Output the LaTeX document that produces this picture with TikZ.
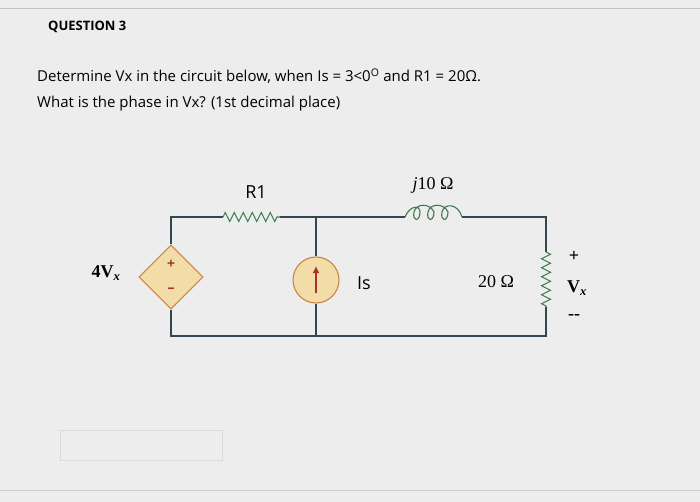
\documentclass[tikz,border=0pt]{standalone}
\usepackage{fontspec}
\setmainfont{Open Sans}
\newfontfamily\serf{Liberation Serif}
\usetikzlibrary{decorations.pathmorphing,arrows.meta}
\definecolor{wire}{HTML}{34464F}
\definecolor{comp}{HTML}{3C7A4E}
\definecolor{srcf}{HTML}{F2DCA8}
\definecolor{srce}{HTML}{C8874A}
\definecolor{arr}{HTML}{A8322A}
\begin{document}
\begin{tikzpicture}[x=1pt,y=-1pt,
  w/.style={draw=wire,line width=1.3pt},
  zig/.style={draw=comp,line width=1.1pt,decorate,decoration={zigzag,segment length=9pt,amplitude=4.5pt}},
  txt/.style={font=\fontsize{15}{18}\selectfont,anchor=west,inner sep=0},
  lab/.style={font=\serf\bfseries\fontsize{18}{20}\selectfont,inner sep=0},
  lbs/.style={font=\fontsize{18}{20}\selectfont,inner sep=0}]
\fill[black!7] (0,0) rectangle (700,502);
\useasboundingbox (0,0) rectangle (700,502);
\draw[black!25] (0,8) -- (700,8);
\draw[black!20] (0,490) -- (700,490);
\draw[black!15] (60,430) rectangle (222,460);
\node[txt,font=\bfseries\fontsize{13}{16}\selectfont] (q) at (48,27) {QUESTION 3};
\node[txt] (l1) at (37,76) {Determine Vx in the circuit below, when Is = 3<0\textsuperscript{O} and R1 = 20Ω.};
\node[txt] (l2) at (37,104) {What is the phase in Vx? (1st decimal place)};
% coordinates
\coordinate (tl) at (171,217); \coordinate (bl) at (171,336);
\coordinate (tm) at (316,217); \coordinate (bm) at (316,336);
\coordinate (tr) at (546,217); \coordinate (br) at (546,336);
\coordinate (r1a) at (223,217); \coordinate (r1b) at (280,217);
\coordinate (la) at (405,217); \coordinate (lb) at (462,217);
\coordinate (ra) at (546,252); \coordinate (rb) at (546,307);
% dependent source
\node[draw=srce,fill=srcf,line width=1.1pt,minimum size=45pt,shape=rectangle,rotate=45,inner sep=0] (ds) at (171,277) {};
\node[font=\bfseries\fontsize{14}{14}\selectfont,text=arr] (dsp) at (171,264) {+};
\node[font=\bfseries\fontsize{14}{14}\selectfont,text=arr] (dsm) at (171,290) {--};
\node[draw=srce,fill=srcf,line width=1.1pt,circle,minimum size=46pt,inner sep=0] (cs) at (316,280) {};
\draw[arr,line width=2pt,-{Latex[length=7pt,width=7pt]}] (316,293) -- (316,266);
% wires
\draw[w] (ds.north east) -- (tl) -- (r1a);
\draw[w] (ds.south west) -- (bl) -- (br) -- (rb);
\draw[w] (r1b) -- (la);
\draw[w] (lb) -- (tr) -- (ra);
\draw[w] (tm) -- (cs.north);
\draw[w] (cs.south) -- (bm);
% components
\draw[zig] (r1a) -- (r1b);
\draw[zig] (ra) -- (rb);
\draw[comp,line width=1.1pt] (la) .. controls (410,205) and (420,205) .. (420,212)
  .. controls (420,222) and (412,222) .. (414,212) .. controls (416,203) and (430,203) .. (434,212)
  .. controls (434,222) and (426,222) .. (428,212) .. controls (430,203) and (444,203) .. (448,212)
  .. controls (448,222) and (440,222) .. (442,212) .. controls (444,203) and (458,203) .. (lb);
% labels
\node[lbs] (tR1) at (256,192) {R1};
\node[lab,font=\serf\fontsize{18}{20}\selectfont] (tL) at (433,185) {\textit{j}10 Ω};
\node[lbs] (tIs) at (364,283) {Is};
\node[lab,font=\serf\fontsize{18}{20}\selectfont] (tR) at (496,282) {20 Ω};
\node[lab] (t4) at (106,273) {4V\textsubscript{\textit{x}}};
\node[lab] (vp) at (574,256) {+};
\node[lab] (vx) at (577,288) {V\textsubscript{\textit{x}}};
\node[lab] (vm) at (574,317) {--};
\end{tikzpicture}
\end{document}
